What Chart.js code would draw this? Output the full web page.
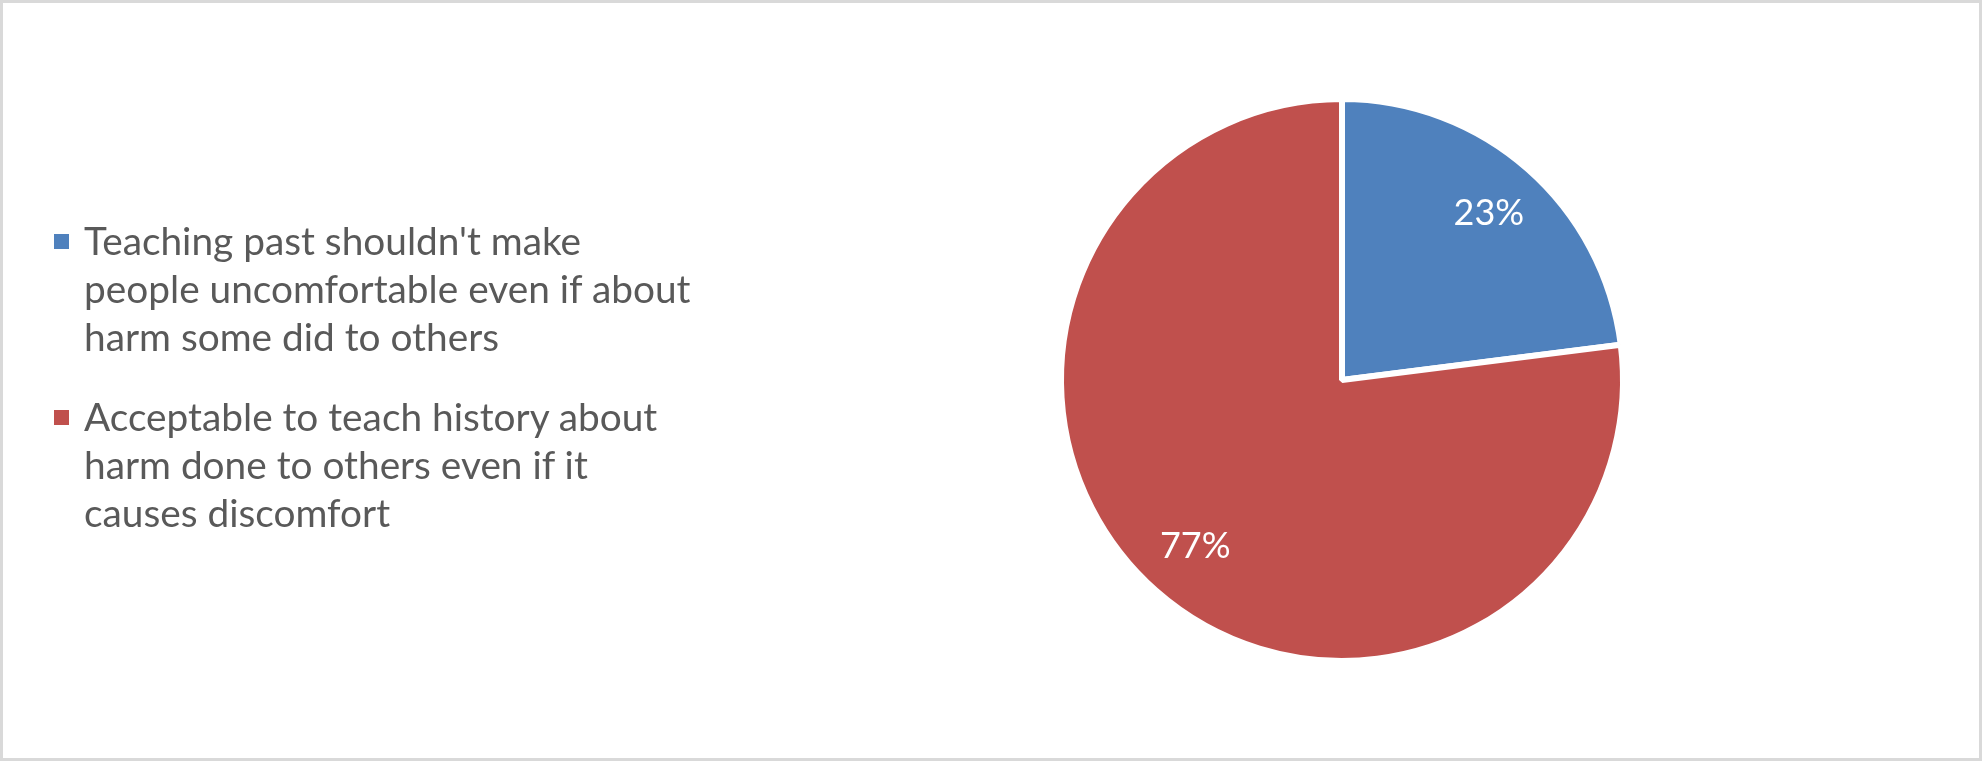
<!DOCTYPE html>
<html>
<head>
<meta charset="utf-8">
<script src="https://cdn.jsdelivr.net/npm/chart.js@4"></script>
<style>
  html, body { margin: 0; padding: 0; background: #ffffff; }
  #wrap { position: relative; width: 1982px; height: 761px; overflow: hidden; background: #ffffff; }
  #chart { position: absolute; left: 0; top: 0; }
  #frame { position: absolute; left: 0; top: 0; width: 1982px; height: 761px; box-sizing: border-box;
           border: 3px solid #d9d9d9; pointer-events: none; }
  .lg-item { position: absolute; left: 0; }
  .lg-box { position: absolute; left: 54px; width: 15px; height: 15px; }
  .lg-text { position: absolute; left: 84px; top: 0; white-space: nowrap; font-family: Lato, "Open Sans", sans-serif;
             font-size: 38.8px; line-height: 48px; color: #595959; }
</style>
</head>
<body>
<div id="wrap">
  <canvas id="chart" width="1982" height="761"></canvas>
  <div id="legend"></div>
  <div id="frame"></div>
</div>
<script>
const categories = [
  ["Teaching past shouldn't make", "people uncomfortable even if about", "harm some did to others"],
  ["Acceptable to teach history about", "harm done to others even if it", "causes discomfort"]
];
const shares = [23, 77];
const sliceColors = ["#4F81BD", "#C0504D"];

const total = shares.reduce((a, b) => a + b, 0);

const sliceLabels = {
  id: 'sliceLabels',
  afterDatasetsDraw(chart) {
    const ctx = chart.ctx;
    const meta = chart.getDatasetMeta(0);
    ctx.save();
    ctx.font = '36px Lato, "Open Sans", sans-serif';
    ctx.fillStyle = '#ffffff';
    ctx.textAlign = 'center';
    ctx.textBaseline = 'middle';
    meta.data.forEach((arc, i) => {
      const p = arc.getProps(['x', 'y', 'startAngle', 'endAngle', 'outerRadius'], true);
      const mid = (p.startAngle + p.endAngle) / 2;
      const d = p.outerRadius * 0.79;
      const tx = p.x + Math.cos(mid) * d;
      const ty = p.y + Math.sin(mid) * d;
      ctx.fillText(Math.round(shares[i] / total * 100) + '%', tx, ty);
    });
    ctx.restore();
  }
};

const chart = new Chart(document.getElementById('chart'), {
  type: 'pie',
  data: {
    labels: categories,
    datasets: [{
      data: shares,
      backgroundColor: sliceColors,
      borderColor: '#ffffff',
      borderWidth: 6,
      hoverOffset: 0,
      offset: 0,
      clip: false
    }]
  },
  options: {
    responsive: false,
    devicePixelRatio: 1,
    animation: false,
    radius: 281,
    layout: { padding: { left: 1042, right: 340, top: 80, bottom: 81 } },
    plugins: {
      legend: { display: false },
      tooltip: { enabled: false }
    }
  },
  plugins: [sliceLabels]
});

// HTML legend built from the chart's own data
const legendEl = document.getElementById('legend');
chart.data.labels.forEach((lines, i) => {
  const item = document.createElement('div');
  item.className = 'lg-item';
  item.style.top = (216 + i * 176) + 'px';
  const box = document.createElement('div');
  box.className = 'lg-box';
  box.style.top = '18px';
  box.style.background = chart.data.datasets[0].backgroundColor[i];
  const txt = document.createElement('div');
  txt.className = 'lg-text';
  txt.innerHTML = lines.map(s => s.replace(/&/g, '&amp;').replace(/</g, '&lt;')).join('<br>');
  item.appendChild(box);
  item.appendChild(txt);
  legendEl.appendChild(item);
});
</script>
</body>
</html>
